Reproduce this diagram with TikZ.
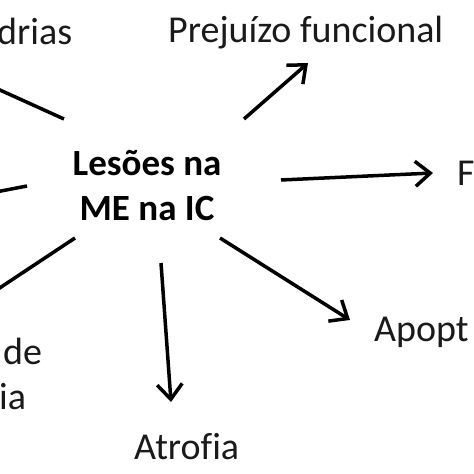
\documentclass[tikz,border=0pt]{standalone}
\usepackage{fontspec}
\setmainfont{Carlito}[Ligatures=NoCommon]
\usetikzlibrary{arrows.meta}
\definecolor{txtgray}{HTML}{1A1A1A}
\tikzset{
  lbl/.style={inner sep=0pt, anchor=base west, text=txtgray, font=\fontsize{38}{46}\selectfont},
  ctr/.style={inner sep=0pt, anchor=base, text=black, font=\bfseries\fontsize{37}{45}\selectfont},
  conn/.style={line width=3.5pt, draw=black},
  arr/.style={conn, -{Straight Barb[length=15pt,width=25pt,line width=3.5pt]}}
}
\begin{document}
\begin{tikzpicture}[x=1pt,y=1pt]
\useasboundingbox (0,0) rectangle (474,474);
\fill[white] (0,0) rectangle (474,474);
% texts
\node[lbl] (drias) at (-3,429) {drias};
\node[lbl] (prej) at (168,431) {Prejuízo funcional};
\node[lbl] (f) at (457,288) {F};
\node[lbl] (apopt) at (374,132) {Apopt};
\node[lbl] (atrofia) at (134,14) {Atrofia};
\node[lbl] (de) at (3,109) {de};
\node[lbl] (ia) at (-1,64) {ia};
\node[ctr] (les1) at (147,298) {Lesões na};
\node[ctr] (les2) at (147,253) {ME na IC};
% connector ends
\coordinate (ulA) at (64,355);
\coordinate (ulB) at (-20,393);
\coordinate (mlA) at (27,288);
\coordinate (mlB) at (-20,279);
\coordinate (llA) at (75,236);
\coordinate (llB) at (-20,173);
\coordinate (prA) at (244,355);
\coordinate (prB) at (308,411);
\coordinate (fA) at (281,294);
\coordinate (fB) at (433,301);
\coordinate (atA) at (161,211);
\coordinate (atB) at (171,72);
\coordinate (apA) at (220,236);
\coordinate (apB) at (350,154);
% connectors
\draw[conn] (ulA) -- (ulB);
\draw[conn] (mlA) -- (mlB);
\draw[conn] (llA) -- (llB);
\draw[arr] (prA) -- (prB);
\draw[arr] (fA) -- (fB);
\draw[arr] (atA) -- (atB);
\draw[arr] (apA) -- (apB);
\end{tikzpicture}
\end{document}
